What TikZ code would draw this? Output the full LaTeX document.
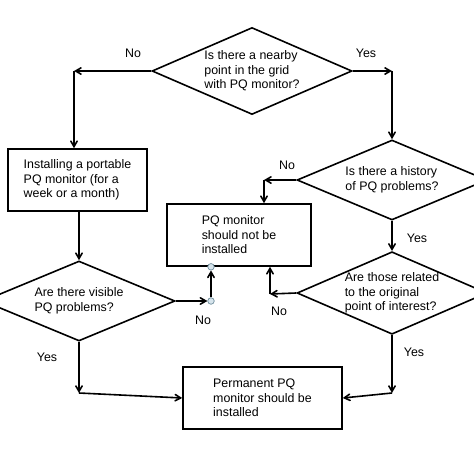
\documentclass[tikz,border=0pt]{standalone}
\usepackage{fontspec}
\setmainfont{Liberation Sans}
\usepackage{pgf,tikz}
\usetikzlibrary{arrows,shapes.geometric}
\definecolor{dotfill}{RGB}{214,228,236}
\definecolor{dotline}{RGB}{110,140,155}
\tikzset{
	box/.style={draw,line width=1.6pt,rectangle,inner sep=0pt,minimum height=62pt,align=left,font=\fontsize{12.4}{14.5}\selectfont},
	ask/.style={draw,line width=1.6pt,diamond,shape aspect=2.25,inner sep=0pt,align=left,font=\fontsize{12.4}{14.5}\selectfont},
	link/.style={->,line width=1.6pt},
	dot/.style={circle,draw=dotline,fill=dotfill,line width=0.7pt,inner sep=0pt,minimum size=6.5pt},
	lbl/.style={font=\fontsize{12.4}{14.5}\selectfont}
}

\begin{document}
\begin{tikzpicture}[>=angle 60,x=1pt,y=-1pt]
		\clip (0,0) rectangle (474,474);
		\node[ask,minimum width=200pt,minimum height=87pt] (q1) at (252,71) {Is there a nearby\\point in the grid\\with PQ monitor?};
		\node[ask,minimum width=190pt,minimum height=80pt] (q2) at (392,180) {Is there a history\\of PQ problems?};
		\node[ask,minimum width=190pt,minimum height=80pt] (q3) at (392,293) {Are those related\\to the original\\point of interest?};
		\node[ask,minimum width=192pt,minimum height=80pt] (q4) at (79,301) {Are there visible\\PQ problems?};
		\node[box,minimum width=139pt] (b1) at (77.5,180) {Installing a portable\\PQ monitor (for a\\week or a month)};
		\node[box,minimum width=144pt] (b2) at (239,235) {PQ monitor\\should not be\\installed};
		\node[box,minimum width=159pt] (b3) at (262.5,398) {Permanent PQ\\monitor should be\\installed};
		\coordinate (c1) at (74,71);
		\coordinate (c2) at (392,71);
		\coordinate (c3) at (264,180);
		\coordinate (c4) at (270,294);
		\coordinate (c6) at (79,393);
		\coordinate (c7) at (392,393);
		\node[dot] (d1) at (211,301) {};
		\node[dot] (d2) at (d1 |- b2.south) {};
		\draw[link] (q1.west) -- (c1);
		\draw[link] (c1) -- (c1 |- b1.north);
		\draw[link] (q1.east) -- (c2);
		\draw[link] (c2) -- (q2.north);
		\draw[link] (q2.west) -- (c3);
		\draw[link] (c3) -- (c3 |- b2.north);
		\draw[link] (q2.south) -- (q3.north);
		\draw[link] (q3.west) -- (c4);
		\draw[link] (c4) -- (c4 |- b2.south);
		\draw[link] (b1.south -| q4.north) -- (q4.north);
		\draw[link] (q4.east) -- (d1);
		\draw[link] (d1) -- (d2);
		\draw[link] (q4.south) -- (c6);
		\draw[link] (c6) -- (b3.west);
		\draw[link] (q3.south) -- (c7);
		\draw[link] (c7) -- (b3.east);
		\node[lbl] (n1) at (133,53) {No};
		\node[lbl] (y1) at (366,53) {Yes};
		\node[lbl] (n2) at (287,165) {No};
		\node[lbl] (y2) at (417,238) {Yes};
		\node[lbl] (n3) at (279,311) {No};
		\node[lbl] (n4) at (203,320) {No};
		\node[lbl] (y3) at (47,357) {Yes};
		\node[lbl] (y4) at (414,352) {Yes};
	\end{tikzpicture}
\end{document}
